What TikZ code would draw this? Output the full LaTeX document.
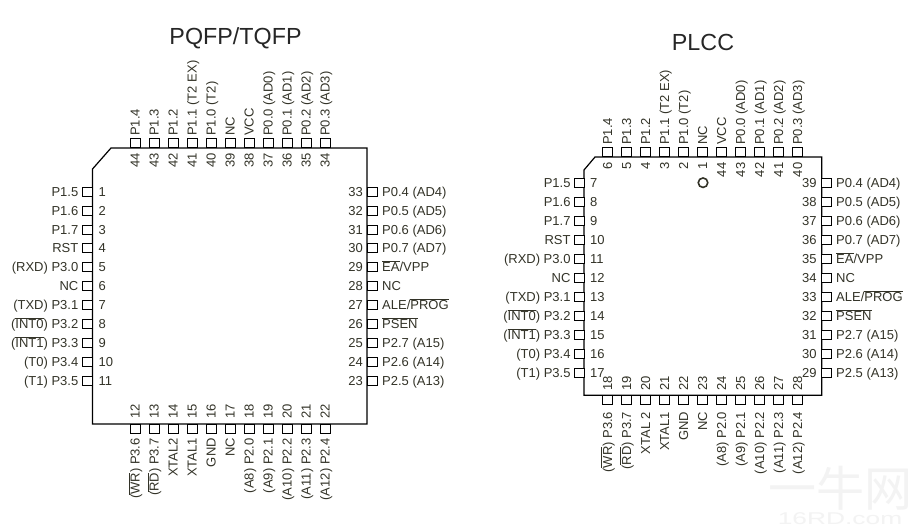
\documentclass[tikz,border=0pt]{standalone}
\usepackage{fontspec}
\setmainfont{Liberation Sans}
\newfontfamily\cjkwm{Noto Sans CJK SC}
\newcommand\ovl[1]{\leavevmode\vbox{\hrule height 0.7pt \kern 0.9pt \hbox{#1}}}
\newcommand\sla{/}
\definecolor{ink}{HTML}{333328}
\definecolor{wm}{HTML}{F3F3F3}
\tikzset{
  chip/.style={draw=black,line width=1.2pt,line join=miter},
  pinbox/.style={draw=black,line width=1pt,fill=white,inner sep=0pt,minimum width=10pt,minimum height=9pt},
  lab/.style={inner sep=0pt,text=ink,font=\fontsize{13pt}{14pt}\selectfont},
  title/.style={inner sep=0pt,text=black!85,font=\fontsize{23.3pt}{25pt}\selectfont},
  wmark/.style={inner sep=0pt,text=wm}
}
\begin{document}
\begin{tikzpicture}[x=1pt,y=-1pt]
\useasboundingbox (0,0) rectangle (920,529);
\fill[white] (0,0) rectangle (920,529);

% ---------- watermark ----------
\node[wmark,font=\cjkwm\fontsize{48pt}{50pt}\selectfont] (wm1) at (840,488) {一牛网};
\node[wmark,font=\fontsize{17pt}{18pt}\selectfont,xscale=1.55,transform shape] (wm2) at (840,519) {16RD.com};

% ---------- PQFP/TQFP ----------
\node[title] (qtitle) at (235.5,38) {PQFP/TQFP};
\draw[chip] (92.5,169) -- (111,148) -- (367,148) -- (367,424) -- (92.5,424) -- cycle;
\foreach \n/\t [count=\i from 0] in {1/P1.5,2/P1.6,3/P1.7,4/RST,5/(RXD) P3.0,6/NC,7/(TXD) P3.1,8/(\ovl{INT0}) P3.2,9/(\ovl{INT1}) P3.3,10/(T0) P3.4,11/(T1) P3.5}{
  \node[pinbox] (qp\n) at (87.5,191.7+\i*18.93) {};
  \node[lab,anchor=base east] (ql\n) at (78.5,196.2+\i*18.93) {\t};
  \node[lab,anchor=base west] (qn\n) at (98.5,196.2+\i*18.93) {\n};
}
\foreach \n/\t [count=\i from 0] in {33/P0.4 (AD4),32/P0.5 (AD5),31/P0.6 (AD6),30/P0.7 (AD7),29/\ovl{EA}\sla VPP,28/NC,27/ALE\sla\ovl{PROG},26/\ovl{PSEN},25/P2.7 (A15),24/P2.6 (A14),23/P2.5 (A13)}{
  \node[pinbox] (qp\n) at (372,191.7+\i*18.93) {};
  \node[lab,anchor=base west] (ql\n) at (382,196.2+\i*18.93) {\t};
  \node[lab,anchor=base east] (qn\n) at (363,196.2+\i*18.93) {\n};
}
\foreach \n/\t [count=\i from 0] in {44/P1.4,43/P1.3,42/P1.2,41/P1.1 (T2 EX),40/P1.0 (T2),39/NC,38/VCC,37/P0.0 (AD0),36/P0.1 (AD1),35/P0.2 (AD2),34/P0.3 (AD3)}{
  \node[pinbox] (qp\n) at (135+\i*19,143.5) {};
  \node[lab,rotate=90,anchor=base west] (ql\n) at (139.5+\i*19,136) {\t};
  \node[lab,rotate=90,anchor=base east] (qn\n) at (139.5+\i*19,153) {\n};
}
\foreach \n/\t [count=\i from 0] in {12/(\ovl{WR}) P3.6,13/(\ovl{RD}) P3.7,14/XTAL2,15/XTAL1,16/GND,17/NC,18/(A8) P2.0,19/(A9) P2.1,20/(A10) P2.2,21/(A11) P2.3,22/(A12) P2.4}{
  \node[pinbox] (qp\n) at (135+\i*19,428.5) {};
  \node[lab,rotate=90,anchor=base east] (ql\n) at (139.5+\i*19,438) {\t};
  \node[lab,rotate=90,anchor=base west] (qn\n) at (139.5+\i*19,419) {\n};
}

% ---------- PLCC ----------
\node[title] (ptitle) at (703,42) {PLCC};
\draw[chip] (584,170) -- (595,157) -- (821.7,157) -- (821.7,395.3) -- (584,395.3) -- cycle;
\node[draw=ink,line width=1.6pt,circle,inner sep=0pt,minimum size=9.5pt] (pmark) at (703,182.7) {};
\foreach \n/\t [count=\i from 0] in {7/P1.5,8/P1.6,9/P1.7,10/RST,11/(RXD) P3.0,12/NC,13/(TXD) P3.1,14/(\ovl{INT0}) P3.2,15/(\ovl{INT1}) P3.3,16/(T0) P3.4,17/(T1) P3.5}{
  \node[pinbox] (pp\n) at (579,183.3+\i*19) {};
  \node[lab,anchor=base east] (pl\n) at (570.7,187.8+\i*19) {\t};
  \node[lab,anchor=base west] (pn\n) at (590,187.8+\i*19) {\n};
}
\foreach \n/\t [count=\i from 0] in {39/P0.4 (AD4),38/P0.5 (AD5),37/P0.6 (AD6),36/P0.7 (AD7),35/\ovl{EA}\sla VPP,34/NC,33/ALE\sla\ovl{PROG},32/\ovl{PSEN},31/P2.7 (A15),30/P2.6 (A14),29/P2.5 (A13)}{
  \node[pinbox] (pp\n) at (826.7,183.3+\i*19) {};
  \node[lab,anchor=base west] (pl\n) at (836,187.8+\i*19) {\t};
  \node[lab,anchor=base east] (pn\n) at (816.7,187.8+\i*19) {\n};
}
\foreach \n/\t [count=\i from 0] in {6/P1.4,5/P1.3,4/P1.2,3/P1.1 (T2 EX),2/P1.0 (T2),1/NC,44/VCC,43/P0.0 (AD0),42/P0.1 (AD1),41/P0.2 (AD2),40/P0.3 (AD3)}{
  \node[pinbox] (pp\n) at (607.5+\i*19,152.5) {};
  \node[lab,rotate=90,anchor=base west] (pl\n) at (612+\i*19,145) {\t};
  \node[lab,rotate=90,anchor=base east] (pn\n) at (612+\i*19,162.5) {\n};
}
\foreach \n/\t [count=\i from 0] in {18/(\ovl{WR}) P3.6,19/(\ovl{RD}) P3.7,20/XTAL 2,21/XTAL1,22/GND,23/NC,24/(A8) P2.0,25/(A9) P2.1,26/(A10) P2.2,27/(A11) P2.3,28/(A12) P2.4}{
  \node[pinbox] (pp\n) at (607.5+\i*19,399.8) {};
  \node[lab,rotate=90,anchor=base east] (pl\n) at (612+\i*19,411.7) {\t};
  \node[lab,rotate=90,anchor=base west] (pn\n) at (612+\i*19,390.7) {\n};
}
\end{tikzpicture}
\end{document}
